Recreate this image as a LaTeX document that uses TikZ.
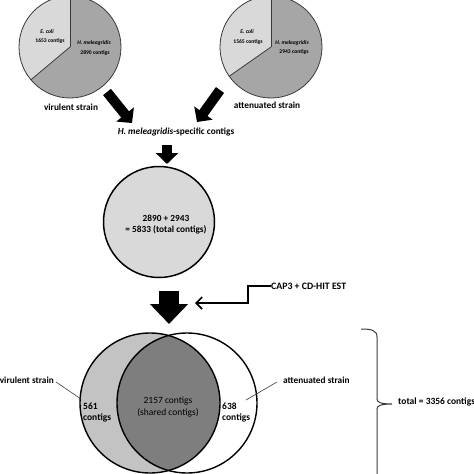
\documentclass[tikz,border=0pt]{standalone}
\usepackage{fontspec}
\setmainfont{Carlito}
\usetikzlibrary{arrows.meta}
\definecolor{plight}{HTML}{D9D9D9}
\definecolor{pdark}{HTML}{A6A6A6}
\definecolor{vleft}{HTML}{C3C3C3}
\definecolor{vlens}{HTML}{7E7E7E}
\definecolor{pline}{HTML}{3A3A3A}
\begin{document}
\begin{tikzpicture}[x=1pt,y=-1pt,
  lbl/.style={inner sep=0, font=\fontsize{9.3}{11}\selectfont\bfseries},
  tiny/.style={inner sep=0, font=\fontsize{5.6}{6.5}\selectfont\bfseries},
  vtxt/.style={inner sep=0, font=\fontsize{9.5}{11}\selectfont\bfseries, align=left},
  pieedge/.style={draw=pline, line width=0.8pt},
  blockarrow/.style={line width=10pt, -{Triangle[length=11pt 0, width=22pt 0]}},
  bigarrow/.style={line width=20pt, -{Triangle[length=20pt 0, width=37pt 0]}},
  thinlink/.style={line width=0.6pt, draw=pline},
  caplink/.style={line width=1.6pt, -{Straight Barb[length=6pt, width=12pt]}}
]
\useasboundingbox (0,0) rectangle (474,474);

% left pie
\coordinate (pieL) at (70,47);
\fill[pdark] (pieL) circle[radius=51];
\fill[plight] (pieL) -- ++(-90:51) arc[start angle=-90, end angle=-220, radius=51] -- cycle;
\draw[pieedge] (pieL) circle[radius=51];
\draw[pieedge] (pieL) -- ++(-90:51);
\draw[pieedge] (pieL) -- ++(140:51);
\node[tiny] (ecL) at (47,32) {\itshape E. coli};
\node[tiny] (ecLn) at (50,41) {1653 contigs};
\node[tiny] (hmL) at (94,43) {\itshape H. meleagridis};
\node[tiny] (hmLn) at (95,53) {2890 contigs};
\node[lbl] (virL) at (71,107) {virulent strain};

% right pie
\coordinate (pieR) at (271,47);
\fill[pdark] (pieR) circle[radius=51];
\fill[plight] (pieR) -- ++(-90:51) arc[start angle=-90, end angle=-215, radius=51] -- cycle;
\draw[pieedge] (pieR) circle[radius=51];
\draw[pieedge] (pieR) -- ++(-90:51);
\draw[pieedge] (pieR) -- ++(145:51);
\node[tiny] (ecR) at (247,32) {\itshape E. coli};
\node[tiny] (ecRn) at (248,42) {1565 contigs};
\node[tiny] (hmR) at (292,43) {\itshape H. meleagridis};
\node[tiny] (hmRn) at (294,52) {2943 contigs};
\node[lbl] (attR) at (267,105) {attenuated strain};

% specific contigs
\node[lbl] (spec) at (176,132) {\itshape H. meleagridis\/\upshape -specific contigs};
\coordinate (aLs) at (107,92);
\coordinate (aLe) at (132,123);
\coordinate (aRs) at (220,90);
\coordinate (aRe) at (197,122);
\draw[blockarrow] (aLs) -- (aLe);
\draw[blockarrow] (aRs) -- (aRe);

% total circle
\coordinate (aDs) at (167,145);
\coordinate (aDe) at (167,164);
\draw[blockarrow] (aDs) -- (aDe);
\node[circle, draw, line width=1.5pt, fill=plight, minimum size=111pt, inner sep=0] (tot) at (159,222) {};
\node[lbl, align=center] (totxt) at (166,224.5) {2890 + 2943\\= 5833 (total contigs)};

% big arrow
\coordinate (bAs) at (169,291);
\coordinate (bAe) at (169,324);
\draw[bigarrow] (bAs) -- (bAe);

% CAP3
\node[inner sep=0, anchor=west, font=\fontsize{9.8}{11}\selectfont\bfseries] (cap3) at (271,286) {CAP3 + CD-HIT EST};
\coordinate (capT) at (195,303);
\draw[caplink] (cap3.west) -- (248,286) -- (248,303) -- (capT);

% Venn
\coordinate (vL) at (150,403);
\coordinate (vR) at (187,403);
\fill[vleft] (vL) circle[radius=70];
\begin{scope}
  \clip (vL) circle[radius=70];
  \fill[vlens] (vR) circle[radius=70];
\end{scope}
\draw[line width=1.4pt] (vL) circle[radius=70];
\draw[line width=1.4pt] (vR) circle[radius=70];

\node[inner sep=0, align=center, font=\fontsize{9.5}{12}\selectfont] (shared) at (168,407) {2157 contigs\\(shared contigs)};
\node[vtxt, anchor=west] (n561) at (83,412.5) {561\\contigs};
\node[vtxt, anchor=west] (n638) at (222,412.5) {638\\contigs};

\node[lbl, anchor=east] (vvir) at (54,380) {virulent strain};
\coordinate (pvir) at (81,399);
\draw[thinlink] (56,382) -- (pvir);
\node[lbl, anchor=west] (vatt) at (283,380) {attenuated strain};
\coordinate (patt) at (246,400);
\draw[thinlink] (277,382) -- (patt);

% brace
\draw[pline, line width=1pt] (361,329) .. controls (371,329) and (377,330) .. (377,337)
  -- (377,399) .. controls (377,402) and (380,404) .. (392,404)
  .. controls (380,404) and (377,406) .. (377,409) -- (377,480);
\node[inner sep=0, anchor=west, font=\fontsize{9.5}{11}\selectfont\bfseries] (total) at (398,402) {total = 3356 contigs};
\end{tikzpicture}
\end{document}
